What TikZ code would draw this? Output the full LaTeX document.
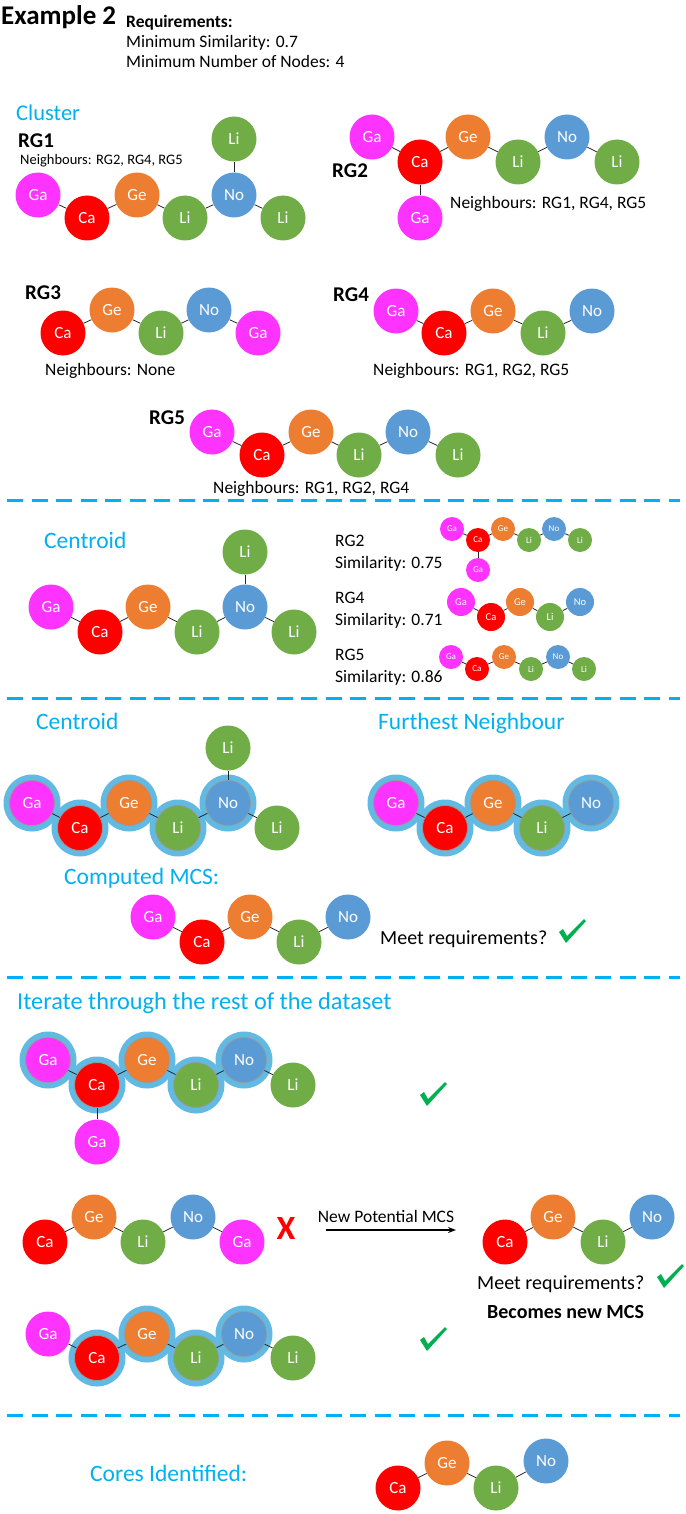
\documentclass[tikz,border=0pt]{standalone}
\usepackage{fontspec}
\setmainfont{Carlito}
\usetikzlibrary{arrows.meta}
\definecolor{cGa}{RGB}{255,51,255}
\definecolor{cCa}{RGB}{255,0,0}
\definecolor{cGe}{RGB}{237,125,49}
\definecolor{cLi}{RGB}{112,173,71}
\definecolor{cNo}{RGB}{91,155,213}
\definecolor{cHead}{RGB}{0,176,240}
\definecolor{cRing}{RGB}{98,185,226}
\definecolor{cCheck}{RGB}{0,176,80}
\newcommand\fsz[1]{\fontsize{#1}{#1}\selectfont}
\pgfdeclarelayer{ringlayer}
\pgfdeclarelayer{edgelayer}
\pgfsetlayers{ringlayer,edgelayer,main}
\tikzset{
  atom/.style={circle, inner sep=0pt, minimum size=45pt, text=white, font=\fsz{17}},
  aGa/.style={atom, fill=cGa}, aCa/.style={atom, fill=cCa}, aGe/.style={atom, fill=cGe},
  aLi/.style={atom, fill=cLi}, aNo/.style={atom, fill=cNo},
  tinyatom/.style={minimum size=24pt, font=\fsz{9}},
  midatom/.style={minimum size=28pt, font=\fsz{10.5}},
  hl/.style={draw=black!40, line width=0.7pt},
  bond/.style={draw=black!85, line width=0.8pt},
  body/.style={anchor=west, inner sep=0pt, font=\fsz{17.5}, text height=11.3pt, text depth=0pt},
  bodyl/.style={anchor=west, inner sep=0pt, font=\fsz{20}, text height=12.9pt, text depth=0pt},
  sbody/.style={anchor=west, inner sep=0pt, font=\fsz{14.5}, text height=9.3pt, text depth=0pt},
  bodyb/.style={anchor=west, inner sep=0pt, font=\bfseries\fsz{17.5}, text height=11.3pt, text depth=0pt},
  lbl/.style={anchor=west, inner sep=0pt, font=\bfseries\fsz{21}, text height=13.5pt, text depth=0pt},
  titletext/.style={anchor=west, inner sep=0pt, font=\bfseries\fsz{27}, text height=17.4pt, text depth=0pt},
  hdr/.style={anchor=west, inner sep=0pt, font=\fsz{23.5}, text height=15.1pt, text depth=0pt, text=cHead},
  sep/.style={draw=cHead, line width=3pt, dash pattern=on 16pt off 8.5pt},
  checkmark/.pic={\fill[cCheck] (-13,0) -- (-9,-3) -- (-5,4) -- (12,-13) -- (14,-11) -- (-6,11) -- cycle;}
}
\newcommand\bonds[1]{\begin{pgfonlayer}{edgelayer}\foreach \p/\q in {#1}{\draw[bond] (\p) -- (\q);}\end{pgfonlayer}}
\newcommand\rings[1]{\begin{pgfonlayer}{ringlayer}\foreach \p in {#1}{\fill[cRing] (\p.center) circle[radius=28.5pt];}\end{pgfonlayer}}
\begin{document}
\begin{tikzpicture}[x=1pt,y=-1pt]
\useasboundingbox (0,0) rectangle (685,1514);
% ---------- header
\node[titletext] (t0) at (1,16) {Example 2};
\node[bodyb] (req) at (126,22) {Requirements:};
\node[body] (req1) at (126,42) {Minimum Similarity: 0.7};
\node[body] (req2) at (126,62) {Minimum Number of Nodes: 4};
% ---------- cluster
\node[hdr, font=\fsz{22.5}] (h1) at (16,113) {Cluster};
\node[lbl] (l1) at (18,141) {RG1};
\node[sbody] (n1) at (20,160) {Neighbours: RG2, RG4, RG5};
\node[aGa] (a1) at (38,195) {Ga};
\node[aCa] (a2) at (87,218) {Ca};
\node[aGe] (a3) at (137,195) {Ge};
\node[aLi] (a4) at (185,218) {Li};
\node[aNo] (a5) at (234,195) {No};
\node[aLi] (a6) at (234,139) {Li};
\node[aLi] (a7) at (283,218) {Li};
\bonds{a1/a2,a2/a3,a3/a4,a4/a5,a5/a6,a5/a7}

\node[lbl] (l2) at (332,171) {RG2};
\node[aGa] (b1) at (372,137) {Ga};
\node[aCa] (b2) at (420,162) {Ca};
\node[aGe] (b3) at (468,137) {Ge};
\node[aLi] (b4) at (518,162) {Li};
\node[aNo] (b5) at (567,137) {No};
\node[aLi] (b6) at (617,162) {Li};
\node[aGa] (b7) at (420,218) {Ga};
\bonds{b1/b2,b2/b3,b3/b4,b4/b5,b5/b6,b2/b7}
\node[body] (n2) at (450,203) {Neighbours: RG1, RG4, RG5};

\node[lbl] (l3) at (25,293) {RG3};
\node[aCa] (c1) at (63,333) {Ca};
\node[aGe] (c2) at (112,310) {Ge};
\node[aLi] (c3) at (161,333) {Li};
\node[aNo] (c4) at (209,310) {No};
\node[aGa] (c5) at (258,333) {Ga};
\bonds{c1/c2,c2/c3,c3/c4,c4/c5}
\node[body] (n3) at (45,370) {Neighbours: None};

\node[lbl] (l4) at (333,295) {RG4};
\node[aGa] (d1) at (396,311) {Ga};
\node[aCa] (d2) at (444,333) {Ca};
\node[aGe] (d3) at (493,311) {Ge};
\node[aLi] (d4) at (543,333) {Li};
\node[aNo] (d5) at (592,311) {No};
\bonds{d1/d2,d2/d3,d3/d4,d4/d5}
\node[body] (n4) at (373,370) {Neighbours: RG1, RG2, RG5};

\node[lbl] (l5) at (149,418) {RG5};
\node[aGa] (e1) at (212,432) {Ga};
\node[aCa] (e2) at (262,455) {Ca};
\node[aGe] (e3) at (311,432) {Ge};
\node[aLi] (e4) at (359,455) {Li};
\node[aNo] (e5) at (408,432) {No};
\node[aLi] (e6) at (458,455) {Li};
\bonds{e1/e2,e2/e3,e3/e4,e4/e5,e5/e6}
\node[body] (n5) at (213,488) {Neighbours: RG1, RG2, RG4};

\coordinate (s1a) at (7,500); \coordinate (s1b) at (680,500);
\draw[sep] (s1a) -- (s1b);
% ---------- centroid
\node[hdr] (h2) at (44,541) {Centroid};
\node[aGa] (f1) at (51,607) {Ga};
\node[aCa] (f2) at (100,632) {Ca};
\node[aGe] (f3) at (148,607) {Ge};
\node[aLi] (f4) at (197,632) {Li};
\node[aNo] (f5) at (245,607) {No};
\node[aLi] (f6) at (245,552) {Li};
\node[aLi] (f7) at (294,632) {Li};
\bonds{f1/f2,f2/f3,f3/f4,f4/f5,f5/f6,f5/f7}

\node[body] (g2l) at (335,541) {RG2};
\node[body] (g2s) at (335,563) {Similarity: 0.75};
\node[aGa,tinyatom] (g1) at (452,529) {Ga};
\node[aCa,tinyatom] (g2) at (478,540) {Ca};
\node[aGe,tinyatom] (g3) at (503,529) {Ge};
\node[aLi,tinyatom] (g4) at (529,540) {Li};
\node[aNo,tinyatom] (g5) at (554,529) {No};
\node[aLi,tinyatom] (g6) at (580,540) {Li};
\node[aGa,tinyatom] (g7) at (478,570) {Ga};
\bonds{g1/g2,g2/g3,g3/g4,g4/g5,g5/g6,g2/g7}

\node[body] (k4l) at (335,598) {RG4};
\node[body] (k4s) at (335,620) {Similarity: 0.71};
\node[aGa,midatom] (k1) at (461,602) {Ga};
\node[aCa,midatom] (k2) at (491,617) {Ca};
\node[aGe,midatom] (k3) at (520,602) {Ge};
\node[aLi,midatom] (k4) at (550,617) {Li};
\node[aNo,midatom] (k5) at (580,602) {No};
\bonds{k1/k2,k2/k3,k3/k4,k4/k5}

\node[body] (m5l) at (335,655) {RG5};
\node[body] (m5s) at (335,677) {Similarity: 0.86};
\node[aGa,tinyatom] (m1) at (451,657) {Ga};
\node[aCa,tinyatom] (m2) at (477,669) {Ca};
\node[aGe,tinyatom] (m3) at (504,657) {Ge};
\node[aLi,tinyatom] (m4) at (531,669) {Li};
\node[aNo,tinyatom] (m5) at (558,657) {No};
\node[aLi,tinyatom] (m6) at (584,669) {Li};
\bonds{m1/m2,m2/m3,m3/m4,m4/m5,m5/m6}

\coordinate (s2a) at (7,698); \coordinate (s2b) at (680,698);
\draw[sep] (s2a) -- (s2b);
% ---------- centroid vs furthest neighbour
\node[hdr] (h3) at (36,722) {Centroid};
\node[hdr] (h4) at (378,722) {Furthest Neighbour};
\node[aGa,hl] (p1) at (32,803) {Ga};
\node[aCa,hl] (p2) at (80,828) {Ca};
\node[aGe,hl] (p3) at (129,803) {Ge};
\node[aLi,hl] (p4) at (178,828) {Li};
\node[aNo,hl] (p5) at (228,803) {No};
\node[aLi] (p6) at (228,748) {Li};
\node[aLi] (p7) at (277,828) {Li};
\rings{p1,p2,p3,p4,p5}
\bonds{p1/p2,p2/p3,p3/p4,p4/p5,p5/p6,p5/p7}

\node[aGa,hl] (q1) at (396,803) {Ga};
\node[aCa,hl] (q2) at (445,828) {Ca};
\node[aGe,hl] (q3) at (493,803) {Ge};
\node[aLi,hl] (q4) at (542,828) {Li};
\node[aNo,hl] (q5) at (591,803) {No};
\rings{q1,q2,q3,q4,q5}
\bonds{q1/q2,q2/q3,q3/q4,q4/q5}

\node[hdr] (h5) at (64,877) {Computed MCS:};
\node[aGa] (r1) at (153,917) {Ga};
\node[aCa] (r2) at (202,942) {Ca};
\node[aGe] (r3) at (250,917) {Ge};
\node[aLi] (r4) at (299,942) {Li};
\node[aNo] (r5) at (348,917) {No};
\bonds{r1/r2,r2/r3,r3/r4,r4/r5}
\node[bodyl] (mr1) at (380,938) {Meet requirements?};
\pic (ck1) at (572,932) {checkmark};

\coordinate (s3a) at (7,977); \coordinate (s3b) at (680,977);
\draw[sep] (s3a) -- (s3b);
% ---------- iterate
\node[hdr, font=\fsz{24.3}] (h6) at (17,1002) {Iterate through the rest of the dataset};
\node[aGa,hl] (u1) at (48,1060) {Ga};
\node[aCa,hl] (u2) at (97,1085) {Ca};
\node[aGe,hl] (u3) at (147,1060) {Ge};
\node[aLi,hl] (u4) at (196,1085) {Li};
\node[aNo,hl] (u5) at (244,1060) {No};
\node[aLi] (u6) at (293,1085) {Li};
\node[aGa] (u7) at (97,1142) {Ga};
\rings{u1,u2,u3,u4,u5}
\bonds{u1/u2,u2/u3,u3/u4,u4/u5,u5/u6,u2/u7}
\pic (ck2) at (433,1095) {checkmark};

\node[aCa] (v1) at (45,1242) {Ca};
\node[aGe] (v2) at (94,1217) {Ge};
\node[aLi] (v3) at (143,1242) {Li};
\node[aNo] (v4) at (193,1217) {No};
\node[aGa] (v5) at (242,1242) {Ga};
\bonds{v1/v2,v2/v3,v3/v4,v4/v5}
\node[font=\bfseries\fsz{34}, text=cCa, inner sep=0pt] (xx) at (286,1228) {X};
\coordinate (arA) at (326,1230); \coordinate (arB) at (456,1230);
\draw[line width=1.2pt, -{Stealth[length=8pt,width=6pt]}] (arA) -- (arB);
\node[body, anchor=center] (npm) at (386,1217) {New Potential MCS};
\node[aCa] (w1) at (505,1242) {Ca};
\node[aGe] (w2) at (553,1217) {Ge};
\node[aLi] (w3) at (603,1242) {Li};
\node[aNo] (w4) at (652,1217) {No};
\bonds{w1/w2,w2/w3,w3/w4}
\node[bodyl] (mr2) at (477,1283) {Meet requirements?};
\pic (ck3) at (670,1277) {checkmark};
\node[anchor=west, inner sep=0pt, font=\bfseries\fsz{20}, text height=12.9pt, text depth=0pt] (bnm) at (487,1312) {Becomes new MCS};

\node[aGa] (z1) at (48,1334) {Ga};
\node[aCa,hl] (z2) at (97,1358) {Ca};
\node[aGe,hl] (z3) at (147,1334) {Ge};
\node[aLi,hl] (z4) at (196,1358) {Li};
\node[aNo,hl] (z5) at (244,1334) {No};
\node[aLi] (z6) at (293,1358) {Li};
\rings{z2,z3,z4,z5}
\bonds{z1/z2,z2/z3,z3/z4,z4/z5,z5/z6}
\pic (ck4) at (433,1340) {checkmark};

\coordinate (s4a) at (7,1415); \coordinate (s4b) at (680,1415);
\draw[sep] (s4a) -- (s4b);
% ---------- cores
\node[hdr] (h7) at (90,1474) {Cores Identified:};
\node[aCa] (y1) at (398,1488) {Ca};
\node[aGe] (y2) at (447,1463) {Ge};
\node[aLi] (y3) at (496,1488) {Li};
\node[aNo] (y4) at (546,1461) {No};
\bonds{y1/y2,y2/y3,y3/y4}
\end{tikzpicture}
\end{document}
